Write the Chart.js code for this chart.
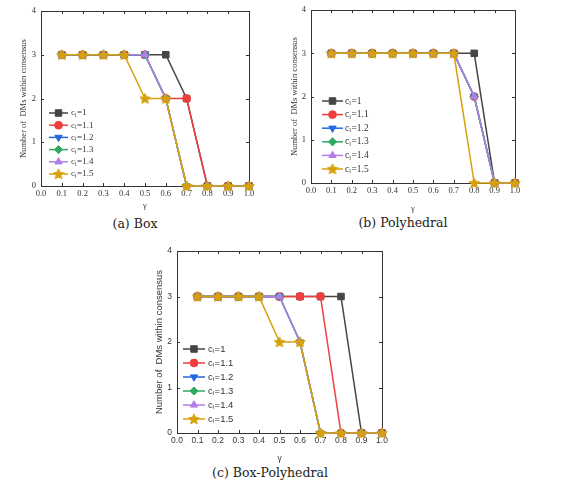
<!DOCTYPE html>
<html><head><meta charset="utf-8">
<script src="https://cdn.jsdelivr.net/npm/chart.js@4.4.1/dist/chart.umd.min.js"></script>
<style>
html,body{margin:0;padding:0;background:#fff;width:582px;height:490px;overflow:hidden}
canvas{position:absolute}
.cap{position:absolute;font-family:"DejaVu Serif",serif;font-size:12.5px;color:#222;white-space:nowrap;transform:translateX(-50%)}
</style></head><body>
<canvas id="ca" width="260" height="215" style="left:0;top:0"></canvas>
<canvas id="cb" width="260" height="215" style="left:270px;top:0"></canvas>
<canvas id="cc" width="270" height="225" style="left:130px;top:240px"></canvas>
<div class="cap" style="left:135px;top:216px">(a) Box</div>
<div class="cap" style="left:403px;top:215px">(b) Polyhedral</div>
<div class="cap" style="left:270px;top:465px">(c) Box-Polyhedral</div>
<script>
// ---- data ----
const gamma = [0.1,0.2,0.3,0.4,0.5,0.6,0.7,0.8,0.9,1.0];
const seriesNames = ["1","1.1","1.2","1.3","1.4","1.5"];
const xTicks = [0.0,0.1,0.2,0.3,0.4,0.5,0.6,0.7,0.8,0.9,1.0];
const yTicks = [0,1,2,3,4];

const boxC10 = [3,3,3,3,3,3,2,0,0,0];
const boxC11 = [3,3,3,3,3,2,2,0,0,0];
const boxC12 = [3,3,3,3,3,2,0,0,0,0];
const boxC13 = [3,3,3,3,3,2,0,0,0,0];
const boxC14 = [3,3,3,3,3,2,0,0,0,0];
const boxC15 = [3,3,3,3,2,2,0,0,0,0];

const polyC10 = [3,3,3,3,3,3,3,3,0,0];
const polyC11 = [3,3,3,3,3,3,3,2,0,0];
const polyC12 = [3,3,3,3,3,3,3,2,0,0];
const polyC13 = [3,3,3,3,3,3,3,2,0,0];
const polyC14 = [3,3,3,3,3,3,3,2,0,0];
const polyC15 = [3,3,3,3,3,3,3,0,0,0];

const bpC10 = [3,3,3,3,3,3,3,3,0,0];
const bpC11 = [3,3,3,3,3,3,3,0,0,0];
const bpC12 = [3,3,3,3,3,2,0,0,0,0];
const bpC13 = [3,3,3,3,3,2,0,0,0,0];
const bpC14 = [3,3,3,3,3,2,0,0,0,0];
const bpC15 = [3,3,3,3,2,2,0,0,0,0];

// ---- styles ----
const colors = ["#454545","#f03e3e","#2468e0","#2fa862","#b07ee6","#d6a10c"];
function starImage(color){
  const c=document.createElement('canvas'); c.width=12; c.height=12;
  const g=c.getContext('2d'); g.fillStyle=color; g.strokeStyle=color; g.lineWidth=0.8; g.beginPath();
  for(let i=0;i<10;i++){const r=i%2?2.7:5.6;const a=-Math.PI/2+i*Math.PI/5;
    g.lineTo(6+r*Math.cos(a),6.4+r*Math.sin(a));}
  g.closePath(); g.fill(); g.stroke(); return c;
}
const markers = [
  {pointStyle:'rect',radius:4.6,rotation:0},
  {pointStyle:'circle',radius:3.9,rotation:0},
  {pointStyle:'triangle',radius:4.2,rotation:180},
  {pointStyle:'rectRot',radius:4.1,rotation:0},
  {pointStyle:'triangle',radius:4.2,rotation:0},
  {pointStyle:starImage(colors[5]),radius:4.5,rotation:0}
];

function drawMarker(ctx,m,color,x,y){
  ctx.save(); ctx.fillStyle=color; ctx.strokeStyle=color; ctx.lineWidth=1;
  Chart.helpers.drawPoint(ctx,{pointStyle:m.pointStyle,rotation:m.rotation,radius:m.radius,borderWidth:1},x,y);
  ctx.restore();
}

const frameTicks = {
  id:'frameTicks',
  beforeDatasetsDraw(chart){
    const {ctx,chartArea:a,scales:{x,y}}=chart; const L=3;
    ctx.save(); ctx.strokeStyle='#333'; ctx.lineWidth=1;
    ctx.strokeRect(Math.round(a.left)+0.5,Math.round(a.top)+0.5,Math.round(a.right-a.left),Math.round(a.bottom-a.top));
    ctx.beginPath();
    xTicks.forEach(v=>{const px=Math.round(x.getPixelForValue(v))+0.5;
      ctx.moveTo(px,a.bottom);ctx.lineTo(px,a.bottom-L);ctx.moveTo(px,a.top);ctx.lineTo(px,a.top+L);});
    yTicks.forEach(v=>{const py=Math.round(y.getPixelForValue(v))+0.5;
      ctx.moveTo(a.left,py);ctx.lineTo(a.left+L,py);ctx.moveTo(a.right,py);ctx.lineTo(a.right-L,py);});
    ctx.stroke(); ctx.restore();
  },
  afterDatasetsDraw(chart,args,o){
    const ctx=chart.ctx; ctx.save();
    chart.data.datasets.forEach((ds,i)=>{
      const yy=o.y0+i*o.step;
      ctx.strokeStyle=ds.borderColor; ctx.lineWidth=1.5;
      ctx.beginPath(); ctx.moveTo(o.x1,yy); ctx.lineTo(o.x2,yy); ctx.stroke();
      drawMarker(ctx,markers[i],ds.borderColor,(o.x1+o.x2)/2,yy);
      ctx.fillStyle='#333'; ctx.textBaseline='middle'; ctx.textAlign='left';
      ctx.font=o.fs+'px '+o.family; let tx=o.tx;
      ctx.fillText('c',tx,yy); tx+=ctx.measureText('c').width;
      ctx.font=(o.fs*0.65)+'px '+o.family; ctx.fillText('l',tx,yy+2.5); tx+=ctx.measureText('l').width+0.5;
      ctx.font=o.fs+'px '+o.family; ctx.fillText('='+seriesNames[i],tx,yy);
    });
    ctx.restore();
  }
};

function makeChart(id,series,L){
  const datasets=series.map((vals,i)=>({
    label:'c='+seriesNames[i],
    data:vals.map((v,k)=>({x:gamma[k],y:v})),
    borderColor:colors[i], backgroundColor:colors[i],
    pointBackgroundColor:colors[i], pointBorderColor:colors[i],
    pointStyle:markers[i].pointStyle, pointRadius:markers[i].radius, pointRotation:markers[i].rotation,
    pointBorderWidth:1, borderWidth:1.5, tension:0, clip:false, order:5-i
  }));
  const tickFont={family:L.family,size:L.fs};
  return new Chart(document.getElementById(id),{
    type:'line',
    data:{datasets},
    options:{
      responsive:false, animation:false, devicePixelRatio:1,
      layout:{padding:{left:0,top:L.top,right:L.right,bottom:0}},
      plugins:{legend:{display:false},tooltip:{enabled:false},
        frameTicks:{x1:L.lx1,x2:L.lx2,tx:L.tx,y0:L.ly0,step:L.lstep,fs:L.lfs,family:L.family}},
      scales:{
        x:{type:'linear',min:0,max:1,
          afterBuildTicks:s=>{s.ticks=xTicks.map(v=>({value:v}));},
          afterFit:s=>{s.height=L.xh;},
          ticks:{font:tickFont,color:'#333',padding:L.xpad,maxRotation:0,autoSkip:false,callback:v=>v.toFixed(1)},
          grid:{display:false,drawTicks:false}, border:{display:false},
          title:{display:true,text:'γ',font:{family:L.family,size:L.fs,lineHeight:1},color:'#333',padding:{top:0,bottom:L.xtp}}},
        y:{type:'linear',min:0,max:4,
          afterBuildTicks:s=>{s.ticks=yTicks.map(v=>({value:v}));},
          afterFit:s=>{s.width=L.yw;},
          ticks:{font:tickFont,color:'#333',padding:L.ypad,callback:v=>String(v)},
          grid:{display:false,drawTicks:false}, border:{display:false},
          title:{display:true,text:'Number of  DMs within consensus',font:{family:L.family,size:L.tfs,lineHeight:1},color:'#333',padding:{top:L.ytp,bottom:0}}}
      }
    },
    plugins:[frameTicks]
  });
}

makeChart('ca',[boxC10,boxC11,boxC12,boxC13,boxC14,boxC15],
  {family:'"Liberation Serif", serif',fs:8.5,tfs:8.5,lfs:9,top:11,right:11,xh:29,yw:41,xpad:3,ypad:5,xtp:4.5,ytp:20,
   lx1:49,lx2:68,tx:71,ly0:113,lstep:12.2});
makeChart('cb',[polyC10,polyC11,polyC12,polyC13,polyC14,polyC15],
  {family:'"Liberation Serif", serif',fs:8.5,tfs:8.5,lfs:9.5,top:7,right:15,xh:32,yw:41,xpad:3,ypad:5,xtp:2,ytp:21,
   lx1:52,lx2:73,tx:75,ly0:101,lstep:13.6});
makeChart('cc',[bpC10,bpC11,bpC12,bpC13,bpC14,bpC15],
  {family:'"Liberation Sans", Arial, sans-serif',fs:8.5,tfs:9.5,lfs:9.5,top:11,right:18,xh:32,yw:47,xpad:3,ypad:5,xtp:2.5,ytp:25,
   lx1:53,lx2:75,tx:78,ly0:109,lstep:14});
</script>
</body></html>
